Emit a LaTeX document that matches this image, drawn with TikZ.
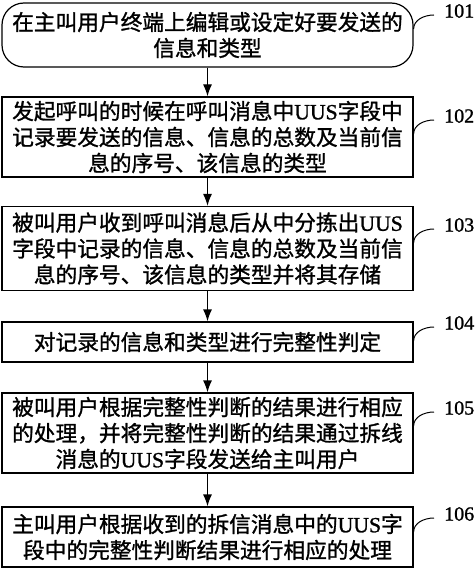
\documentclass[tikz,border=0pt]{standalone}
\usepackage{fontspec}
\setmainfont[FakeBold=1.2]{Liberation Serif}
\newfontfamily\cjk[FakeBold=1.2]{Noto Sans CJK SC}
\usetikzlibrary{arrows.meta,calc}
\newcommand{\uus}{{\rmfamily UUS}}
\begin{document}
\begin{tikzpicture}[x=1pt,y=-1pt,
  stepbox/.style={draw,line width=1.2pt,minimum width=411pt,inner xsep=0pt,inner ysep=0pt,
    text width=411pt,align=center,font=\cjk\fontsize{21.7}{26}\selectfont},
  flow/.style={line width=1.2pt,-{Latex[length=12pt,width=9pt]}},
  numlabel/.style={anchor=west,inner sep=0pt,font=\fontsize{20}{22}\selectfont},
  leader/.style={line width=1pt}]
\useasboundingbox (0,0) rectangle (474,572);
\node[stepbox,rounded corners=22pt,minimum height=64pt] (b1) at (207.5,35)
  {在主叫用户终端上编辑或设定好要发送的\\信息和类型};
\node[stepbox,minimum height=80pt] (b2) at (207.5,137)
  {发起呼叫的时候在呼叫消息中\uus 字段中\\记录要发送的信息、信息的总数及当前信\\息的序号、该信息的类型};
\node[stepbox,minimum height=84pt] (b3) at (207.5,248.5)
  {被叫用户收到呼叫消息后从中分拣出\uus\\字段中记录的信息、信息的总数及当前信\\息的序号、该信息的类型并将其存储};
\node[stepbox,minimum height=40pt] (b4) at (207.5,342)
  {对记录的信息和类型进行完整性判定};
\node[stepbox,minimum height=80pt] (b5) at (207.5,433)
  {被叫用户根据完整性判断的结果进行相应\\的处理，并将完整性判断的结果通过拆线\\消息的\uus 字段发送给主叫用户};
\node[stepbox,minimum height=60pt] (b6) at (207.5,537)
  {主叫用户根据收到的拆信消息中的\uus 字\\段中的完整性判断结果进行相应的处理};
\draw[flow] (b1) -- (b2);
\draw[flow] (b2) -- (b3);
\draw[flow] (b3) -- (b4);
\draw[flow] (b4) -- (b5);
\draw[flow] (b5) -- (b6);
\foreach \i/\yl in {1/11,2/116,3/225,4/323,5/408,6/514}{
  \node[numlabel] (l\i) at (444,\yl) {10\i};
  \coordinate (s\i) at (b\i.east |- 0,\yl+18);
  \coordinate (e\i) at (434,\yl+4);
  \draw[leader] (s\i) .. controls ($(s\i)+(0,-9)$) and ($(e\i)+(-10,0)$) .. (e\i);
}
\end{tikzpicture}
\end{document}
